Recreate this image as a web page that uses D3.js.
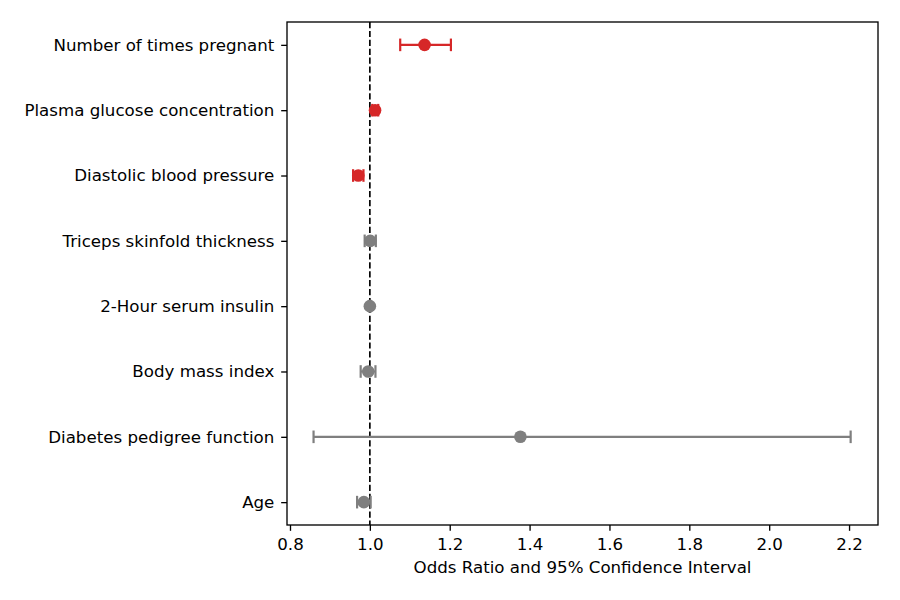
<!DOCTYPE html>
<html>
<head>
<meta charset="utf-8">
<script src="https://cdn.jsdelivr.net/npm/d3@7"></script>
<style>
  body { margin: 0; background: #fff; }
  text { font-family: "DejaVu Sans", sans-serif; }
</style>
</head>
<body>
<div id="chart"></div>
<script>
// Data
const features = ["Number of times pregnant", "Plasma glucose concentration", "Diastolic blood pressure",
  "Triceps skinfold thickness", "2-Hour serum insulin", "Body mass index",
  "Diabetes pedigree function", "Age"];
const odds = [1.137, 1.013, 0.971, 1.001, 1.000, 0.996, 1.377, 0.985];
const ciLow = [1.076, 1.006, 0.958, 0.987, 0.998, 0.977, 0.859, 0.968];
const ciHigh = [1.203, 1.021, 0.984, 1.015, 1.002, 1.014, 2.204, 1.002];
const significant = [true, true, true, false, false, false, false, false];
const xTicks = [0.8, 1.0, 1.2, 1.4, 1.6, 1.8, 2.0, 2.2];

const width = 900, height = 600;
const margin = {top: 22, right: 22, bottom: 75, left: 287};
const fontSize = 16.67;
const tick = 5.83;

const svg = d3.select("#chart").append("svg")
  .attr("width", width)
  .attr("height", height);

const g = svg.append("g")
  .attr("transform", "translate(" + margin.left + "," + margin.top + ")");

const w = width - margin.left - margin.right;
const h = height - margin.top - margin.bottom;

const x = d3.scaleLinear().domain([0.7925, 2.2725]).range([0, w]);
// index 0 at top, 5% padding like matplotlib
const y = d3.scaleLinear().domain([-0.35, 7.35]).range([0, h]);

const colorOf = i => significant[i] ? "#d62728" : "#7f7f7f";

// reference line at OR = 1
g.append("line")
  .attr("x1", x(1)).attr("x2", x(1))
  .attr("y1", 0).attr("y2", h)
  .attr("stroke", "#000")
  .attr("stroke-width", 1.67)
  .attr("stroke-dasharray", "6.2,2.7");

const rows = g.selectAll(".row").data(features).enter()
  .append("g").attr("class", "row");

// error bar lines
rows.append("line")
  .attr("x1", (d, i) => x(ciLow[i]))
  .attr("x2", (d, i) => x(ciHigh[i]))
  .attr("y1", (d, i) => y(i))
  .attr("y2", (d, i) => y(i))
  .attr("stroke", (d, i) => colorOf(i))
  .attr("stroke-width", 2.2);

// caps
[ciLow, ciHigh].forEach(arr => {
  rows.append("line")
    .attr("x1", (d, i) => x(arr[i]))
    .attr("x2", (d, i) => x(arr[i]))
    .attr("y1", (d, i) => y(i) - 6.3)
    .attr("y2", (d, i) => y(i) + 6.3)
    .attr("stroke", (d, i) => colorOf(i))
    .attr("stroke-width", 2.2);
});

// points
rows.append("circle")
  .attr("cx", (d, i) => x(odds[i]))
  .attr("cy", (d, i) => y(i))
  .attr("r", 6.3)
  .attr("fill", (d, i) => colorOf(i));

// axes
const xAxis = g.append("g")
  .attr("transform", "translate(0," + h + ")")
  .call(d3.axisBottom(x).tickValues(xTicks).tickFormat(d3.format(".1f")).tickSize(tick).tickPadding(tick + 2));

const yAxis = g.append("g")
  .call(d3.axisLeft(y).tickValues(d3.range(features.length)).tickFormat(i => features[i]).tickSize(tick).tickPadding(tick + 1));

[xAxis, yAxis].forEach(a => {
  a.select(".domain").remove();
  a.selectAll(".tick line").attr("stroke", "#000").attr("stroke-width", 1.33);
  a.selectAll(".tick text").style("font-size", fontSize + "px").attr("fill", "#000");
});

// frame
g.append("rect")
  .attr("x", 0).attr("y", 0)
  .attr("width", w).attr("height", h)
  .attr("fill", "none")
  .attr("stroke", "#000")
  .attr("stroke-width", 1.33);

// x label
g.append("text")
  .attr("x", w / 2)
  .attr("y", h + 48)
  .attr("text-anchor", "middle")
  .style("font-size", fontSize + "px")
  .text("Odds Ratio and 95% Confidence Interval");
</script>
</body>
</html>
